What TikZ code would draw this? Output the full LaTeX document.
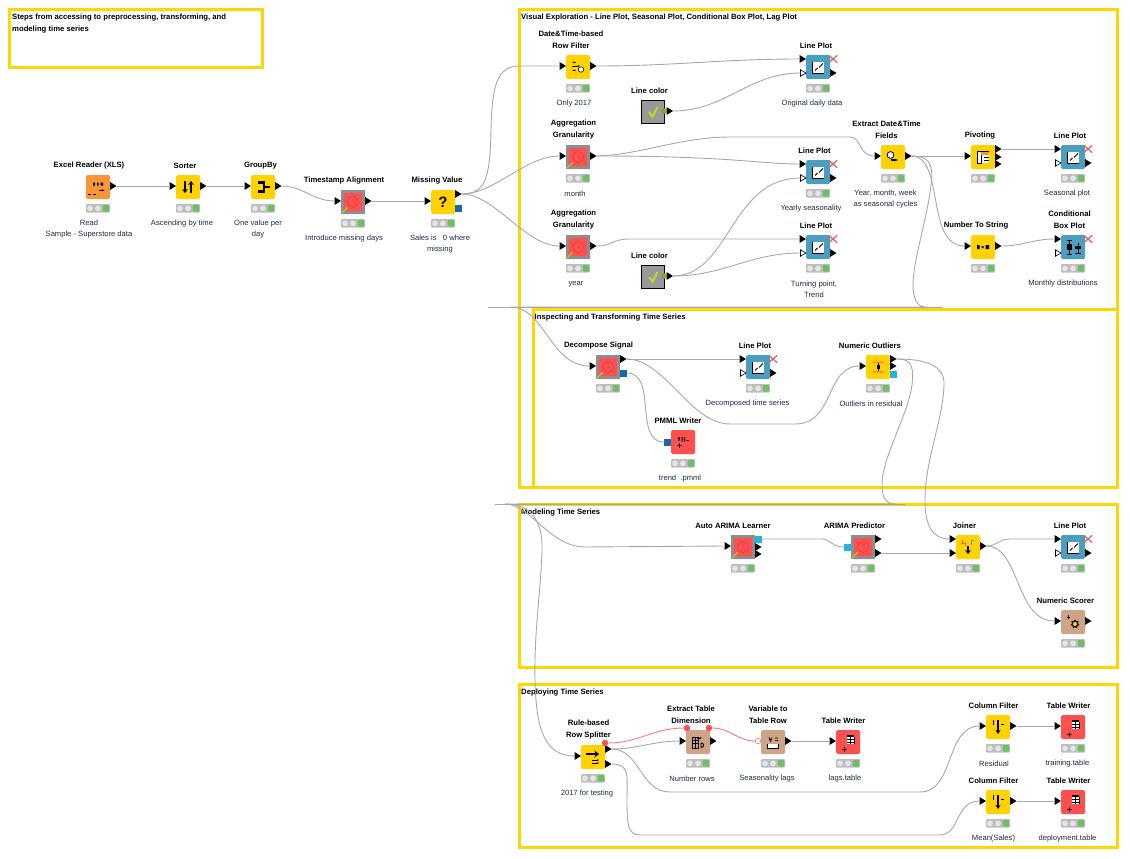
\documentclass[tikz,border=0pt]{standalone}
\usepackage{xcolor}
\usepackage{fontspec}
\setmainfont{Liberation Sans}
\usepackage{tikz}
\usetikzlibrary{shapes.geometric, shapes.misc, arrows.meta, positioning, calc}

\definecolor{kyellow}{HTML}{FFD200}
\definecolor{korange}{HTML}{F9963A}
\definecolor{kred}{HTML}{FF4F4F}
\definecolor{kdarkred}{HTML}{C93F3F}
\definecolor{kblue}{HTML}{4A9FC1}
\definecolor{ktan}{HTML}{CFA385}
\definecolor{kgray}{HTML}{8E8E8E}
\definecolor{kgreen}{HTML}{B9DC1E}
\definecolor{kframe}{HTML}{FFD700}
\definecolor{klight}{HTML}{BDBDBD}
\definecolor{klamp}{HTML}{6CBF62}
\definecolor{kwire}{HTML}{A8A8A8}
\definecolor{kflow}{HTML}{F87A7A}
\definecolor{kport}{HTML}{1A66A8}
\definecolor{kcyan}{HTML}{25B4DC}
\definecolor{kcapt}{HTML}{1D2A45}
\definecolor{kcross}{HTML}{D9695E}

\newcommand{\titlefont}{\bfseries\fontsize{7.7}{12}\selectfont}
\newcommand{\captfont}{\fontsize{7.6}{11}\selectfont}

% status bar under a node
\newcommand{\lights}[1]{%
  \node[lightbar, below=5pt of #1] (#1-s) {};
  \fill[white!90!black] ($(#1-s)+(-8,0)$) circle (2.9);
  \fill[white!90!black] (#1-s) circle (2.9);
  \fill[klamp, rounded corners=1pt] ($(#1-s)+(4.8,-3.2)$) rectangle ($(#1-s)+(11.2,3.2)$);
}
% view node with its two inputs and the red cross
\newcommand{\viewports}[1]{%
  \node[inport, left=0pt of #1, yshift=8pt] (#1-i) {};
  \node[hollowport, left=0pt of #1, yshift=-6pt] (#1-h) {};
  \node[xmark] (#1-x) at ($(#1.east)+(3,-8)$) {};
  \lights{#1}
}

\tikzset{
  metaglyph/.pic={
    \fill[kred, rounded corners=1pt] (-9,-9) rectangle (9,9);
    \draw[kdarkred, line width=.4pt] (0,0) circle (5.5);
    \draw[kdarkred, line width=.4pt] (0,-3) -- (0,0) -- (2.5,1);
    \draw[-{Stealth[length=3pt]}, kgreen, line width=1pt] (-11,11) -- (-5,5);
  },
  plotglyph/.pic={
    \fill[white] (-6,-5) rectangle (6,6);
    \draw[black, line width=.8pt] (-6,-5) -- (-6,6) -- (6,6);
    \draw[black, line width=.8pt] (-3,3.5) -- (-.5,1);
    \draw[black, line width=.8pt] (1,.5) -- (5,-3.5);
  },
  filterglyph/.pic={
    \draw[-{Stealth[length=4pt,width=5pt]}, line width=1.2pt] (0,-7) -- (0,7);
    \draw[line width=.8pt] (-4.5,-7) -- (-4.5,-2);
    \draw[line width=.8pt] (3,-3) -- (6,-3);
  },
  writerglyph/.pic={
    \fill[white] (-1,-7) rectangle (6,2);
    \fill (-1,-7) rectangle (6,-5);
    \draw[line width=.5pt] (-1,-2.5) -- (6,-2.5) (-1,0) -- (6,0) (2.5,-5) -- (2.5,2) (6,-5) -- (6,2);
    \draw[line width=.7pt] (-6,7.5) -- (-1,7.5) (-3.5,5) -- (-3.5,10);
  },
  boxglyph/.pic={
    \fill (-6,-3) rectangle (-1,3);
    \draw[line width=.8pt] (-3.5,-7) -- (-3.5,7) (-6,-7) -- (-1,-7) (-6,7) -- (-1,7);
    \fill (2,-1) rectangle (8,2);
    \draw[line width=.8pt] (5,-4) -- (5,7) (2,6) -- (8,6);
  },
}

\begin{document}
\begin{tikzpicture}[
      x=1pt, y=-1pt,
      knode/.style ={rectangle, rounded corners=1.5pt, minimum size=24pt, inner sep=0pt, outer sep=0pt},
      mani/.style  ={knode, fill=kyellow},
      source/.style={knode, fill=korange},
      sink/.style  ={knode, fill=kred},
      viewer/.style={knode, fill=kblue},
      other/.style ={knode, fill=ktan},
      meta/.style  ={knode, fill=kgray, rounded corners=.5pt},
      quick/.style ={knode, fill=black!40, draw=black, line width=.8pt, minimum size=23pt, rounded corners=0pt},
      ktitle/.style={font=\titlefont, align=center, inner sep=0pt, text=black, yshift=-.8pt},
      kcaption/.style={font=\captfont, align=center, inner sep=0pt, text=kcapt, yshift=-.8pt},
      annot/.style ={draw=kframe, line width=3pt},
      annottext/.style={font=\titlefont, anchor=west, align=left, inner sep=0pt, yshift=-1pt},
      lightbar/.style={rectangle, fill=klight, rounded corners=1pt, minimum width=24pt, minimum height=8.7pt, inner sep=0pt, outer sep=0pt},
      inport/.style={isosceles triangle, isosceles triangle stretches, fill=black, minimum width=8pt, minimum height=6.5pt, inner sep=0pt, outer sep=0pt},
      hollowport/.style={inport, fill=white, draw=black, line width=.6pt, minimum width=6.5pt, minimum height=5.5pt},
      sqport/.style={rectangle, minimum size=7pt, inner sep=0pt, outer sep=0pt},
      xmark/.style ={cross out, draw=kcross, line width=1.3pt, minimum width=7pt, minimum height=6pt, inner sep=0pt},
      flowport/.style={circle, fill=kred, minimum size=6.5pt, inner sep=0pt, outer sep=0pt},
      dotport/.style={circle, fill=kgreen!80!black, draw=kgreen!60!black, line width=.4pt, minimum size=5pt, inner sep=0pt},
      wire/.style  ={draw=kwire, line width=.9pt},
      flowwire/.style={draw=kflow, line width=.9pt},
    ]
    \useasboundingbox (0,0) rectangle (1130,859);

    % Annotation frames
    \draw[annot] (9.5,10) rectangle (262,68);
    \draw[annot] (519.5,10) rectangle (1117.6,487.5);
    \draw[annot] (533,309.5) rectangle (1117.6,487.5);
    \draw[annot] (519.5,504.5) rectangle (1117.6,667);
    \draw[annot] (519.5,684.7) rectangle (1117.6,847.5);
    \node[annottext] (notesteps) at (12,23) {Steps from accessing to preprocessing, transforming, and\\modeling time series};
    \node[annottext] (notevisual) at (521,17) {Visual Exploration - Line Plot, Seasonal Plot, Conditional Box Plot, Lag Plot};
    \node[annottext] (noteinspect) at (534.5,317) {Inspecting and Transforming Time Series};
    \node[annottext] (notemodel) at (521,512) {Modeling Time Series};
    \node[annottext] (notedeploy) at (521,692) {Deploying Time Series};

    % Reading and cleaning
    \node[source] (excel) at (98,187) {};
    \node[mani, right=66pt of excel] (sorter) {};
    \node[mani, right=51pt of sorter] (groupby) {};
    \node[meta] (tsalign) at (353,202) {};
    \node[mani, right=66pt of tsalign, font=\bfseries\fontsize{15}{15}\selectfont] (missing) {?};
    \node[ktitle] at (89,165) (excel-t) {Excel Reader (XLS)};
    \node[ktitle] at (185,165) (sorter-t) {Sorter};
    \node[ktitle] at (260.5,165) (groupby-t) {GroupBy};
    \node[ktitle] at (344,180) (tsalign-t) {Timestamp Alignment};
    \node[ktitle] at (437,180) (missing-t) {Missing Value};
    \node[kcaption] at (89,228.5) (excel-c) {Read\\Sample - Superstore data};
    \node[kcaption] at (182,223) (sorter-c) {Ascending by time};
    \node[kcaption] at (258,228.5) (groupby-c) {One value per\\day};
    \node[kcaption] at (344,238) (tsalign-c) {Introduce missing days};
    \node[kcaption] at (440,243.5) (missing-c) {Sales is\ \ \ 0 where\\missing};
    \foreach \n in {excel,sorter,groupby,tsalign,missing} {\lights{\n}}
    \node[inport, right=0pt of excel, yshift=1pt] (excel-o) {};
    \node[inport, left=0pt of sorter, yshift=1pt] (sorter-i) {};
    \node[inport, right=0pt of sorter, yshift=1pt] (sorter-o) {};
    \node[inport, left=0pt of groupby, yshift=1pt] (groupby-i) {};
    \node[inport, right=0pt of groupby, yshift=1pt] (groupby-o) {};
    \node[inport, left=0pt of tsalign, yshift=1pt] (tsalign-i) {};
    \node[inport, right=0pt of tsalign, yshift=1pt] (tsalign-o) {};
    \node[inport, left=0pt of missing, yshift=1pt] (missing-i) {};
    \node[inport, right=0pt of missing, yshift=8pt] (missing-o) {};
    \node[sqport, fill=kport, right=0pt of missing, yshift=-6pt] (missing-v) {};
    % Glyphs
    \pic at (tsalign) {metaglyph};
    \begin{scope}[shift={(excel)}]
      \fill (-5,-4.5) rectangle (-3,-1.5) (-1,-4.5) rectangle (.5,-1.5) (2.5,-4.5) rectangle (5,-1.5);
      \draw[-{Stealth[length=2.5pt]}, line width=.7pt] (1,3.3) -- (6.5,3.3);
      \draw[densely dashed, line width=.7pt] (-10,7.3) -- (0,7.3);
    \end{scope}
    \begin{scope}[shift={(sorter)}]
      \draw[-{Stealth[length=4pt,width=6pt]}, line width=1.6pt] (-3,-6) -- (-3,6);
      \draw[-{Stealth[length=4pt,width=6pt]}, line width=1.6pt] (3,6) -- (3,-6);
    \end{scope}
    \begin{scope}[shift={(groupby)}]
      \draw[line width=2.2pt] (-5.5,-4.5) -- (1,-4.5) -- (1,4.5) -- (-5.5,4.5);
      \draw[line width=2.2pt] (1,0) -- (7,0);
    \end{scope}

    % Visual exploration, first column
    \node[mani] (rowfilter) at (578,67) {};
    \node[meta] (aggmonth) at (578,157) {};
    \node[meta] (aggyear) at (578,247) {};
    \node[quick] (color1) at (653,112) {};
    \node[quick] (color2) at (653,277) {};
    \node[ktitle] at (571,39) (rowfilter-t) {Date\&Time-based\\Row Filter};
    \node[ktitle] at (573.5,129) (aggmonth-t) {Aggregation\\Granularity};
    \node[ktitle] at (573.5,219) (aggyear-t) {Aggregation\\Granularity};
    \node[ktitle] at (649.5,90) (color1-t) {Line color};
    \node[ktitle] at (649.5,255) (color2-t) {Line color};
    \node[kcaption] at (574,103) (rowfilter-c) {Only 2017};
    \node[kcaption] at (575,193) (aggmonth-c) {month};
    \node[kcaption] at (576,283) (aggyear-c) {year};
    \foreach \n in {rowfilter,aggmonth,aggyear} {
      \lights{\n}
      \node[inport, left=0pt of \n, yshift=1pt] (\n-i) {};
      \node[inport, right=0pt of \n, yshift=1pt] (\n-o) {};
    }
    \pic at (aggmonth) {metaglyph};
    \pic at (aggyear) {metaglyph};
    \begin{scope}[shift={(rowfilter)}]
      \draw[-{Stealth[length=2.5pt]}, line width=.8pt] (-6,-1) -- (2,-1);
      \fill (-5.5,-5) rectangle (-2.5,-4) (-5.5,3) rectangle (-2.5,4);
      \draw[fill=white, line width=.6pt] (3,2.5) circle (2.7);
    \end{scope}
    \foreach \n in {color1,color2} {
      \draw[kgreen, line width=2pt] ($(\n)+(-4,0)$) -- ($(\n)+(-.5,4.5)$) -- ($(\n)+(4.5,-5)$);
      \node[inport, right=0pt of \n, xshift=2pt, yshift=1pt] (\n-o) {};
      \node[dotport, yshift=1pt] (\n-d) at (\n.east) {};
    }

    % Visual exploration, line plots
    \node[viewer] (plotdaily) at (818,67) {};
    \node[viewer] (plotyearly) at (818,172) {};
    \node[viewer] (plottrend) at (818,247) {};
    \node[viewer] (plotseason) at (1073,157) {};
    \node[viewer] (plotbox) at (1073,247) {};
    \node[ktitle] at (816,45) (plotdaily-t) {Line Plot};
    \node[ktitle] at (814.5,150) (plotyearly-t) {Line Plot};
    \node[ktitle] at (816,225) (plottrend-t) {Line Plot};
    \node[ktitle] at (1070,135) (plotseason-t) {Line Plot};
    \node[ktitle] at (1069.5,219) (plotbox-t) {Conditional\\Box Plot};
    \node[kcaption] at (812,103) (plotdaily-c) {Original daily data};
    \node[kcaption] at (811,208) (plotyearly-c) {Yearly seasonality};
    \node[kcaption] at (814,288.5) (plottrend-c) {Turning point,\\Trend};
    \node[kcaption] at (1067,193) (plotseason-c) {Seasonal plot};
    \node[kcaption] at (1063,283) (plotbox-c) {Monthly distributions};
    \foreach \n in {plotdaily,plotyearly,plottrend,plotseason} {
      \viewports{\n}
      \node[inport, right=0pt of \n, yshift=-6pt] (\n-o) {};
      \pic at (\n) {plotglyph};
    }
    \viewports{plotbox}
    \pic at (plotbox) {boxglyph};

    % Seasonal columns
    \node[mani] (extract) at (893,157) {};
    \node[mani] (pivot) at (983,157) {};
    \node[mani] (numstr) at (983,247) {};
    \node[ktitle] at (886.5,129) (extract-t) {Extract Date\&Time\\Fields};
    \node[ktitle] at (980,135) (pivot-t) {Pivoting};
    \node[ktitle] at (976,225) (numstr-t) {Number To String};
    \node[kcaption] at (885.5,198.5) (extract-c) {Year, month, week\\as seasonal cycles};
    \foreach \n in {extract,pivot,numstr} {
      \lights{\n}
      \node[inport, left=0pt of \n, yshift=1pt] (\n-i) {};
    }
    \node[inport, right=0pt of extract, yshift=1pt] (extract-o) {};
    \node[inport, right=0pt of numstr, yshift=1pt] (numstr-o) {};
    \node[inport, right=0pt of pivot, yshift=8pt] (pivot-o1) {};
    \node[inport, right=0pt of pivot, yshift=0pt] (pivot-o2) {};
    \node[inport, right=0pt of pivot, yshift=-7pt] (pivot-o3) {};
    \begin{scope}[shift={(extract)}]
      \draw[fill=white, line width=.8pt] (-2.5,-2) circle (3.4);
      \draw[-{Stealth[length=3pt]}, line width=1.2pt] (-2,3) -- (5,3);
    \end{scope}
    \begin{scope}[shift={(pivot)}]
      \fill[white] (-6,-6) rectangle (6,6);
      \fill[korange] (-2,-6) rectangle (6,-2);
      \draw[line width=.9pt] (6,-6) -- (-6,-6) -- (-6,6) -- (-2,6) -- (-2,-2);
      \draw[line width=.9pt] (1,0) -- (6,0) (1,3.5) -- (6,3.5);
    \end{scope}
    \begin{scope}[shift={(numstr)}]
      \fill (-6,-2) rectangle (-3.5,2) (-1.5,-1) rectangle (.5,1) (2.5,-2) rectangle (6,2);
    \end{scope}

    % Inspecting and transforming
    \node[meta] (decomp) at (608,367) {};
    \node[viewer] (plotdecomp) at (758,367) {};
    \node[mani] (outliers) at (878,367) {};
    \node[sink] (pmml) at (683,442) {};
    \node[ktitle] at (598.5,345) (decomp-t) {Decompose Signal};
    \node[ktitle] at (755,345) (plotdecomp-t) {Line Plot};
    \node[ktitle] at (870,345) (outliers-t) {Numeric Outliers};
    \node[ktitle] at (678,420) (pmml-t) {PMML Writer};
    \node[kcaption] at (747.5,403) (plotdecomp-c) {Decomposed time series};
    \node[kcaption] at (871,403) (outliers-c) {Outliers in residual};
    \node[kcaption] at (680,478) (pmml-c) {trend\ \ .pmml};
    \foreach \n in {decomp,outliers,pmml} {\lights{\n}}
    \viewports{plotdecomp}
    \node[inport, right=0pt of plotdecomp, yshift=-6pt] (plotdecomp-o) {};
    \pic at (plotdecomp) {plotglyph};
    \pic at (decomp) {metaglyph};
    \node[inport, left=0pt of decomp, yshift=1pt] (decomp-i) {};
    \node[inport, right=0pt of decomp, yshift=8pt] (decomp-o) {};
    \node[sqport, fill=kport, right=0pt of decomp, yshift=-6pt] (decomp-v) {};
    \node[inport, left=0pt of outliers, yshift=1pt] (outliers-i) {};
    \node[inport, right=0pt of outliers, yshift=8pt] (outliers-o1) {};
    \node[inport, right=0pt of outliers, yshift=1pt] (outliers-o2) {};
    \node[sqport, fill=kcyan, right=0pt of outliers, yshift=-7pt] (outliers-v) {};
    \node[sqport, fill=kport, left=0pt of pmml] (pmml-i) {};
    \begin{scope}[shift={(outliers)}]
      \fill[korange!90!red] (-5.5,-5.5) rectangle (5.5,-4) (-5.5,4) rectangle (5.5,5.5);
      \fill (-1.5,-2.5) rectangle (1.5,1.5);
      \draw[line width=.6pt] (0,-4) -- (0,4);
    \end{scope}
    \begin{scope}[shift={(pmml)}]
      \fill (-5,-5) rectangle (-3.5,-1.5) (-1.5,-5) rectangle (-.5,-.5) (1,-5) rectangle (2,-.5) (3.5,-2) rectangle (5.5,-1);
      \draw[line width=.8pt] (-6,3.5) -- (-1,3.5) (-3.5,1) -- (-3.5,6);
    \end{scope}

    % Modeling
    \node[meta] (learner) at (743,547) {};
    \node[meta] (predictor) at (863,547) {};
    \node[mani] (joiner) at (968,547) {};
    \node[viewer] (plotfit) at (1073,547) {};
    \node[other] (scorer) at (1073,622) {};
    \node[ktitle] at (733,525) (learner-t) {Auto ARIMA Learner};
    \node[ktitle] at (854.5,525) (predictor-t) {ARIMA Predictor};
    \node[ktitle] at (964.5,525) (joiner-t) {Joiner};
    \node[ktitle] at (1070,525) (plotfit-t) {Line Plot};
    \node[ktitle] at (1065.5,600) (scorer-t) {Numeric Scorer};
    \foreach \n in {learner,predictor,joiner,scorer} {\lights{\n}}
    \viewports{plotfit}
    \node[inport, right=0pt of plotfit, yshift=-6pt] (plotfit-o) {};
    \pic at (plotfit) {plotglyph};
    \pic at (learner) {metaglyph};
    \pic at (predictor) {metaglyph};
    \node[inport, left=0pt of learner, yshift=1pt] (learner-i) {};
    \node[sqport, fill=kcyan, right=0pt of learner, yshift=8pt] (learner-v) {};
    \node[inport, right=0pt of learner, yshift=0pt] (learner-o1) {};
    \node[inport, right=0pt of learner, yshift=-7pt] (learner-o2) {};
    \node[sqport, fill=kcyan, left=0pt of predictor] (predictor-v) {};
    \node[inport, right=0pt of predictor, yshift=8pt] (predictor-o1) {};
    \node[inport, right=0pt of predictor, yshift=-6pt] (predictor-o2) {};
    \node[inport, left=0pt of joiner, yshift=8pt] (joiner-i1) {};
    \node[inport, left=0pt of joiner, yshift=-6pt] (joiner-i2) {};
    \node[inport, right=0pt of joiner, yshift=1pt] (joiner-o) {};
    \node[inport, left=0pt of scorer, yshift=1pt] (scorer-i) {};
    \node[inport, right=0pt of scorer, yshift=1pt] (scorer-o) {};
    \begin{scope}[shift={(joiner)}]
      \draw[kred, line width=.8pt] (-6,-7) -- (-6,-4) -- (-3,-4) -- (-3,-1);
      \draw[kblue, line width=.8pt] (6,-7) -- (3,-7) -- (3,-2);
      \draw[-{Stealth[length=4pt,width=6pt]}, line width=1.3pt] (0,-1) -- (0,7);
    \end{scope}
    \begin{scope}[shift={(scorer)}]
      \draw[line width=.7pt] (-6,-5) -- (-3,-5) (-4.5,-7) -- (-4.5,-3);
      \node[star, star points=7, fill=black, minimum size=9pt, inner sep=0pt] (scorerstar) at (2,2) {};
      \node[star, star points=7, fill=kyellow, minimum size=5pt, inner sep=0pt] (scorerdot) at (2,2) {};
    \end{scope}

    % Deploying
    \node[mani] (splitter) at (593,757) {};
    \node[other] (dimension) at (698,742) {};
    \node[other] (vartable) at (773,742) {};
    \node[sink] (writelags) at (848,742) {};
    \node[mani] (colresid) at (998,727) {};
    \node[sink] (writetrain) at (1073,727) {};
    \node[mani] (colmean) at (998,802) {};
    \node[sink] (writedeploy) at (1073,802) {};
    \node[ktitle] at (588.5,729) (splitter-t) {Rule-based\\Row Splitter};
    \node[ktitle] at (691,714) (dimension-t) {Extract Table\\Dimension};
    \node[ktitle] at (768,714) (vartable-t) {Variable to\\Table Row};
    \node[ktitle] at (843.5,720) (writelags-t) {Table Writer};
    \node[ktitle] at (993.5,705) (colresid-t) {Column Filter};
    \node[ktitle] at (1068.5,705) (writetrain-t) {Table Writer};
    \node[ktitle] at (993.5,780) (colmean-t) {Column Filter};
    \node[ktitle] at (1068.5,780) (writedeploy-t) {Table Writer};
    \node[kcaption] at (587,793) (splitter-c) {2017 for testing};
    \node[kcaption] at (692,778) (dimension-c) {Number rows};
    \node[kcaption] at (767,778) (vartable-c) {Seasonality lags};
    \node[kcaption] at (845,778) (writelags-c) {lags.table};
    \node[kcaption] at (994,763) (colresid-c) {Residual};
    \node[kcaption] at (1067.5,763) (writetrain-c) {training.table};
    \node[kcaption] at (993.5,838) (colmean-c) {Mean(Sales)};
    \node[kcaption] at (1067.5,838) (writedeploy-c) {deployment.table};
    \foreach \n in {splitter,dimension,vartable,writelags,colresid,writetrain,colmean,writedeploy} {\lights{\n}}
    \foreach \n in {colresid,colmean} {
      \pic at (\n) {filterglyph};
      \node[inport, left=0pt of \n, yshift=1pt] (\n-i) {};
      \node[inport, right=0pt of \n, yshift=1pt] (\n-o) {};
    }
    \foreach \n in {writelags,writetrain,writedeploy} {
      \pic at (\n) {writerglyph};
      \node[inport, left=0pt of \n, yshift=1pt] (\n-i) {};
    }
    \node[inport, left=0pt of splitter, yshift=1pt] (splitter-i) {};
    \node[inport, right=0pt of splitter, yshift=8pt] (splitter-o1) {};
    \node[inport, right=0pt of splitter, yshift=-7pt] (splitter-o2) {};
    \node[flowport] (splitter-f) at ($(splitter.north east)+(0,-2)$) {};
    \node[inport, left=0pt of dimension, yshift=1pt] (dimension-i) {};
    \node[inport, right=0pt of dimension, yshift=1pt] (dimension-o) {};
    \node[flowport] (dimension-f1) at ($(dimension.north west)+(1,-2)$) {};
    \node[flowport] (dimension-f2) at ($(dimension.north east)+(-1,-2)$) {};
    \node[flowport, fill=white, draw=kflow, line width=.7pt, minimum size=5.5pt] (vartable-f) at ($(vartable.west)+(-3,-1)$) {};
    \node[inport, right=0pt of vartable, yshift=1pt] (vartable-o) {};
    \begin{scope}[shift={(splitter)}]
      \draw[-{Stealth[length=4.5pt,width=7pt]}, line width=2pt] (-7,-3) -- (6,-3);
      \draw[-{Stealth[length=2pt]}, line width=.6pt] (-1,3) -- (6,3);
      \draw[-{Stealth[length=2pt]}, line width=.6pt] (-1,6) -- (6,6);
    \end{scope}
    \begin{scope}[shift={(dimension)}]
      \draw[line width=.6pt] (-5.5,-5) rectangle (0,6.5) (-5.5,-2) -- (0,-2) (-5.5,1.5) -- (0,1.5) (-2.7,-5) -- (-2.7,6.5);
      \draw[-{Stealth[length=2.5pt]}, line width=.9pt] (-1,-4) -- (4,-4);
      \draw[line width=.9pt] (3,1) -- (3,5.5) (3,1) .. controls (6.5,1) and (6.5,5.5) .. (3,5.5);
    \end{scope}
    \begin{scope}[shift={(vartable)}]
      \fill[white] (-5.5,1.5) rectangle (5.5,6);
      \draw[line width=.9pt] (-5.5,1.5) -- (-5.5,6.5) -- (5.5,6.5) -- (5.5,1.5);
      \draw[line width=.9pt] (-4,-4.5) -- (-2.5,-1) -- (-1,-4.5) (2,-4) -- (5,-4) (2,-1.5) -- (5,-1.5);
    \end{scope}

    % Free ends of the long wires
    \coordinate (bus1w) at (488,307);
    \coordinate (bus1e) at (943,307);
    \coordinate (bus2w) at (495,504);
    \coordinate (bus2e) at (905,504);
    \coordinate (bus2t) at (505,504);

    % Wires of the first row
    \draw[wire] (excel-o.east) -- (sorter-i.west);
    \draw[wire] (sorter-o.east) -- (groupby-i.west);
    \draw[wire] (groupby-o.east) to[out=0,in=180] (tsalign-i.west);
    \draw[wire] (tsalign-o.east) -- (missing-i.west);
    \draw[wire] (missing-o.east) .. controls (485,194) and (490,180) .. (491,130) .. controls (492,85) and (497,66) .. (520,66) -- (rowfilter-i.west);
    \draw[wire] (missing-o.east) .. controls (495,194) and (525,156) .. (aggmonth-i.west);
    \draw[wire] (missing-o.east) .. controls (495,194) and (525,246) .. (aggyear-i.west);

    % Wires of the visual part
    \draw[wire] (rowfilter-o.east) to[out=0,in=180] (plotdaily-i.west);
    \draw[wire] (color1-o.east) to[out=0,in=180] (plotdaily-h.west);
    \draw[wire] (aggmonth-o.east) .. controls (730,156) and (760,164) .. (plotyearly-i.west);
    \draw[wire] (aggmonth-o.east) .. controls (640,155) and (680,137) .. (730,137) -- (850,137) .. controls (862,137) and (858,156) .. (extract-i.west);
    \draw[wire] (aggyear-o.east) .. controls (612,246) and (612,239) .. (630,239) -- (plottrend-i.west);
    \draw[wire] (color2-o.east) .. controls (730,276) and (730,178) .. (plotyearly-h.west);
    \draw[wire] (color2-o.east) to[out=0,in=180] (plottrend-h.west);
    \draw[wire] (extract-o.east) -- (pivot-i.west);
    \draw[wire] (pivot-o1.east) -- (plotseason-i.west);
    \draw[wire] (extract-o.east) .. controls (945,156) and (925,246) .. (numstr-i.west);
    \draw[wire] (numstr-o.east) to[out=0,in=180] (plotbox-i.west);

    % Wires of the inspecting part
    \draw[wire] (bus1w) -- (bus1e);
    \draw[wire] (extract-o.east) .. controls (928,156) and (934,162) .. (931,185) .. controls (927,220) and (913,260) .. (913,285) .. controls (913,300) and (918,307) .. (925,307) -- (510,307) .. controls (545,307) and (550,366) .. (decomp-i.west);
    \draw[wire] (decomp-o.east) -- (plotdecomp-i.west);
    \draw[wire] (decomp-o.east) .. controls (665,359) and (690,424) .. (730,424) -- (795,424) .. controls (835,424) and (825,366) .. (outliers-i.west);
    \draw[wire] (decomp-v.east) to[out=0,in=180] (pmml-i.west);

    % Wires of the modeling part
    \draw[wire] (bus2w) -- (bus2e);
    \draw[wire] (outliers-o1.east) .. controls (908,359) and (915,362) .. (912,385) .. controls (908,415) and (881,460) .. (882,485) .. controls (882,498) and (886,504) .. (895,504) -- (bus2t) .. controls (530,504) and (550,547) .. (585,547) -- (learner-i.west);
    \draw[wire] (outliers-o1.east) .. controls (925,359) and (945,365) .. (944,385) .. controls (943,420) and (925,460) .. (925,500) .. controls (925,525) and (932,539) .. (joiner-i1.west);
    \draw[wire] (learner-v.east) -- (822,539) .. controls (830,539) and (832,547) .. (predictor-v.west);
    \draw[wire] (predictor-o2.east) -- (joiner-i2.west);
    \draw[wire] (joiner-o.east) .. controls (998,546) and (998,539) .. (1010,539) -- (plotfit-i.west);
    \draw[wire] (joiner-o.east) .. controls (1020,546) and (1015,621) .. (scorer-i.west);

    % Wires of the deploying part
    \draw[wire] (bus2t) .. controls (530,504) and (543,520) .. (542,550) .. controls (541,590) and (534,630) .. (535,680) .. controls (536,730) and (545,756) .. (splitter-i.west);
    \draw[wire] (splitter-o1.east) to[out=0,in=180] (dimension-i.west);
    \draw[wire] (splitter-o1.east) .. controls (640,749) and (640,792) .. (670,792) -- (920,792) .. controls (955,792) and (945,726) .. (colresid-i.west);
    \draw[wire] (splitter-o2.east) .. controls (630,764) and (627,775) .. (627,800) .. controls (627,825) and (628,835) .. (640,835) -- (940,835) .. controls (960,835) and (955,801) .. (colmean-i.west);
    \draw[wire] (vartable-o.east) -- (writelags-i.west);
    \draw[wire] (colresid-o.east) -- (writetrain-i.west);
    \draw[wire] (colmean-o.east) -- (writedeploy-i.west);
    \draw[flowwire] (splitter-f) to[out=0,in=180] (dimension-f1);
    \draw[flowwire] (dimension-f2) to[out=0,in=180] (vartable-f);

  \end{tikzpicture}
\end{document}
